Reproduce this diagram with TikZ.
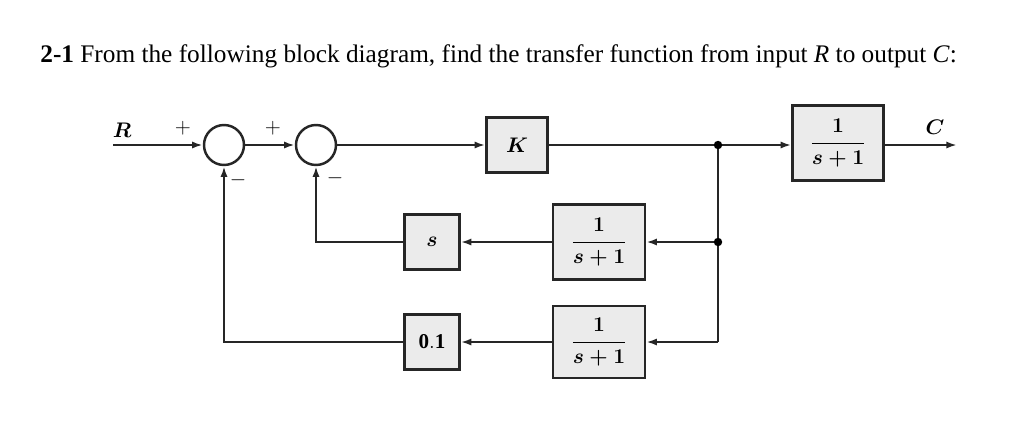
\documentclass[tikz,border=0pt]{standalone}
\usepackage{amsmath}
\usepackage{bm}
\usepackage{fontspec}
\setmainfont{Liberation Serif}
\newfontfamily\diag{Latin Modern Roman}
\usetikzlibrary{arrows.meta}
\begin{document}
\begin{tikzpicture}[x=0.02cm,y=-0.02cm,
  blk/.style={draw=black!85,line width=1.4pt,fill=black!8,inner sep=0pt,font=\diag\bfseries\large},
  sum/.style={draw=black!85,line width=1.4pt,circle,minimum size=40*0.02cm,inner sep=0pt},
  sig/.style={draw=black!85,line width=1.3pt,-{Latex[length=6pt,width=4pt]}},
  ln/.style={draw=black!85,line width=1.3pt},
  lab/.style={font=\diag\large}]
\useasboundingbox (0,0) rectangle (1024,424);
\node[anchor=base west,inner sep=0pt,font=\fontsize{14.4}{18}\selectfont] (title) at (40,62)
 {\textbf{2-1} From the following block diagram, find the transfer function from input \textit{R} to output \textit{C}:};
\coordinate (r) at (113,145);
\node[sum] (s1) at (224,145) {};
\node[sum] (s2) at (316,145) {};
\node[blk,minimum width=61*0.02cm,minimum height=55*0.02cm] (k) at (517,145) {$\bm{K}$};
\coordinate (j1) at (718,145);
\node[blk,minimum width=91*0.02cm,minimum height=75*0.02cm] (g) at (838,143) {$\bm{\dfrac{1}{s+1}}$};
\coordinate (c) at (957,145);
\node[blk,minimum width=55*0.02cm,minimum height=55*0.02cm] (bs) at (432,242) {$\bm{s}$};
\node[blk,minimum width=92*0.02cm,minimum height=75*0.02cm] (h1) at (599,242) {$\bm{\dfrac{1}{s+1}}$};
\coordinate (j2) at (718,242);
\node[blk,minimum width=55*0.02cm,minimum height=55*0.02cm] (b01) at (432,342) {$\mathbf{0.1}$};
\node[blk,minimum width=92*0.02cm,minimum height=72*0.02cm] (h2) at (599,342) {$\bm{\dfrac{1}{s+1}}$};
\coordinate (j3) at (718,342);
\draw[sig] (r) -- (s1);
\draw[sig] (s1) -- (s2);
\draw[sig] (s2) -- (k);
\draw[ln] (k) -- (j1);
\draw[sig] (j1) -- (g.west|-j1);
\draw[sig] (g.east|-j1) -- (c);
\draw[ln] (j1) -- (j3);
\draw[sig] (j2) -- (h1);
\draw[sig] (j3) -- (h2);
\draw[sig] (h1) -- (bs);
\draw[sig] (h2) -- (b01);
\draw[sig] (bs) -| (s2);
\draw[sig] (b01) -| (s1);
\fill (j1) circle (2.4pt) (j2) circle (2.4pt);
\node[lab] (lr) at (122,130) {$\bm{R}$};
\node[lab] (lc) at (935,127) {$\bm{C}$};
\node[lab] (p1) at (183,128) {$+$};
\node[lab] (p2) at (273,128) {$+$};
\node[lab] (m1) at (238,180) {$-$};
\node[lab] (m2) at (335,178) {$-$};
\end{tikzpicture}
\end{document}
